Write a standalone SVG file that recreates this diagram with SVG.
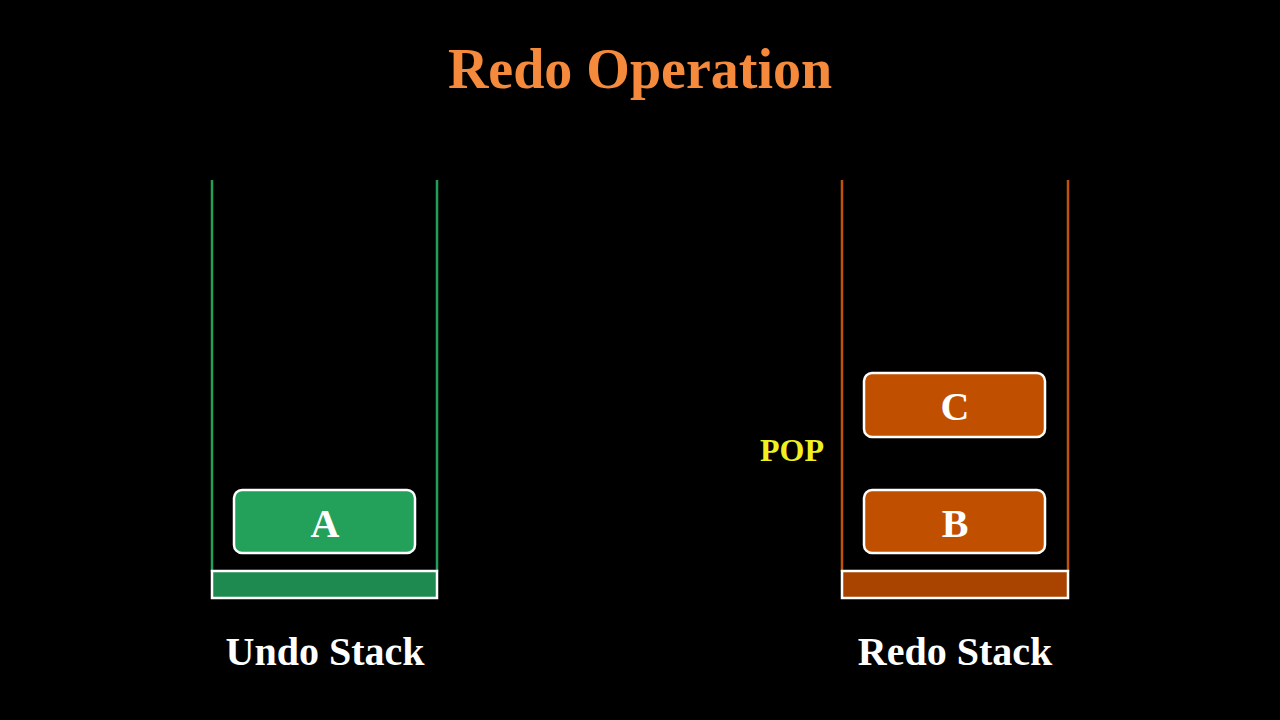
<svg xmlns="http://www.w3.org/2000/svg" width="1280" height="720" viewBox="0 0 1280 720">
<style>
text{font-family:"Liberation Serif","DejaVu Serif",serif;font-weight:bold;text-anchor:middle}
.lbl{fill:#fff;font-size:40px}
.box{stroke:#fff;stroke-width:2.5}
</style>
<rect width="1280" height="720" fill="#000"/>
<text x="640" y="88" fill="#f58a3c" font-size="56">Redo Operation</text>
<g id="undo-stack">
<line x1="212" y1="180" x2="212" y2="572" stroke="#22a05a" stroke-width="2.5"/>
<line x1="437" y1="180" x2="437" y2="572" stroke="#22a05a" stroke-width="2.5"/>
<rect class="box" x="212" y="571" width="225" height="27" fill="#1e8a4f"/>
<text class="lbl" x="325" y="665">Undo Stack</text>
</g>
<g id="node-a">
<rect class="box" x="234" y="490" width="181" height="63" rx="8" fill="#23a05a"/>
<text class="lbl" x="325" y="537">A</text>
</g>
<g id="redo-stack">
<line x1="842" y1="180" x2="842" y2="572" stroke="#c0530a" stroke-width="2.5"/>
<line x1="1068" y1="180" x2="1068" y2="572" stroke="#c0530a" stroke-width="2.5"/>
<rect class="box" x="842" y="571" width="226" height="27" fill="#a84300"/>
<text class="lbl" x="955" y="665">Redo Stack</text>
</g>
<g id="node-c">
<rect class="box" x="864" y="373" width="181" height="64" rx="8" fill="#c05000"/>
<text class="lbl" x="955" y="420">C</text>
</g>
<g id="node-b">
<rect class="box" x="864" y="490" width="181" height="63" rx="8" fill="#c05000"/>
<text class="lbl" x="955" y="537">B</text>
</g>
<g id="pop-label">
<text x="792" y="461" fill="#f0f020" font-size="32" font-weight="normal">POP</text>
</g>
<g id="connectors"/>
</svg>
